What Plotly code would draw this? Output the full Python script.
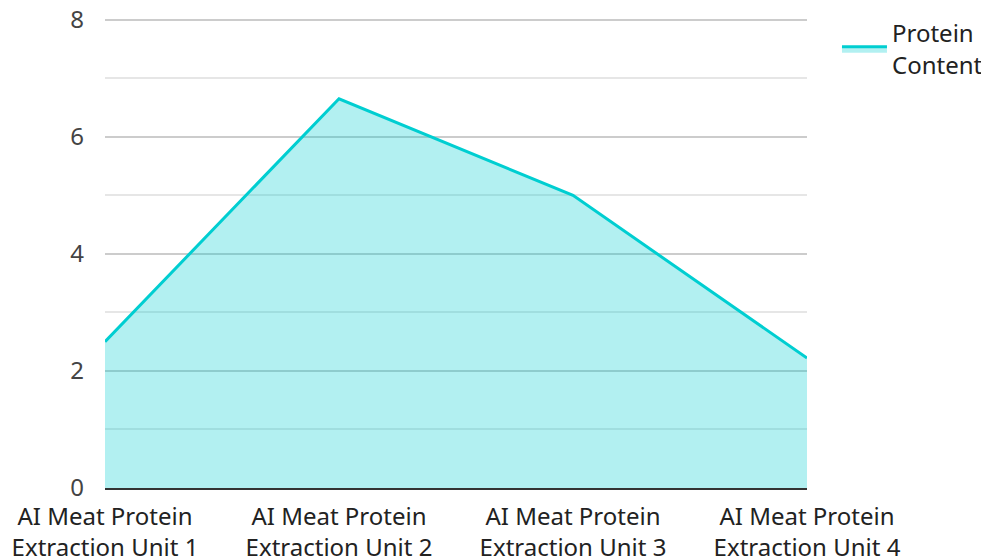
import plotly.graph_objects as go

categories = ["AI Meat Protein<br>Extraction Unit 1", "AI Meat Protein<br>Extraction Unit 2",
              "AI Meat Protein<br>Extraction Unit 3", "AI Meat Protein<br>Extraction Unit 4"]
protein_content = [2.5, 6.65, 5.0, 2.22]
series_name = "Protein<br>Content"

fig = go.Figure()
fig.add_trace(go.Scatter(
    x=categories, y=protein_content, name=series_name,
    mode="lines", fill="tozeroy",
    line=dict(color="#00CED1", width=3),
    fillcolor="rgba(0,206,209,0.3)",
))

font_family = "Noto Sans, Open Sans, sans-serif"
fig.update_layout(
    width=981, height=552,
    margin=dict(l=97, r=182, t=10.2, b=72, autoexpand=False),
    paper_bgcolor="white", plot_bgcolor="white",
    font=dict(family=font_family, size=24, color="#444"),
    showlegend=True,
    legend=dict(x=1.0427, y=1.015, xanchor="left", yanchor="top",
                itemwidth=45,
                font=dict(size=24, color="#222"), bgcolor="rgba(0,0,0,0)"),
    xaxis=dict(range=[0, 3], showgrid=False, showline=True, linecolor="#333",
               linewidth=2, ticks="", zeroline=False, automargin=False,
               ticklabelstandoff=6, ticklabeloverflow="allow",
               tickfont=dict(size=24, color="#222")),
    yaxis=dict(range=[0, 8.03], dtick=2, showgrid=True, gridcolor="#cccccc", gridwidth=1.5,
               zeroline=False, ticks="", showline=False, automargin=False,
               ticklabelstandoff=20, ticklabeloverflow="allow",
               minor=dict(dtick=1, showgrid=True, gridcolor="#e6e6e6", gridwidth=1.5),
               tickfont=dict(size=24, color="#444")),
)

fig.write_html("out.html")
